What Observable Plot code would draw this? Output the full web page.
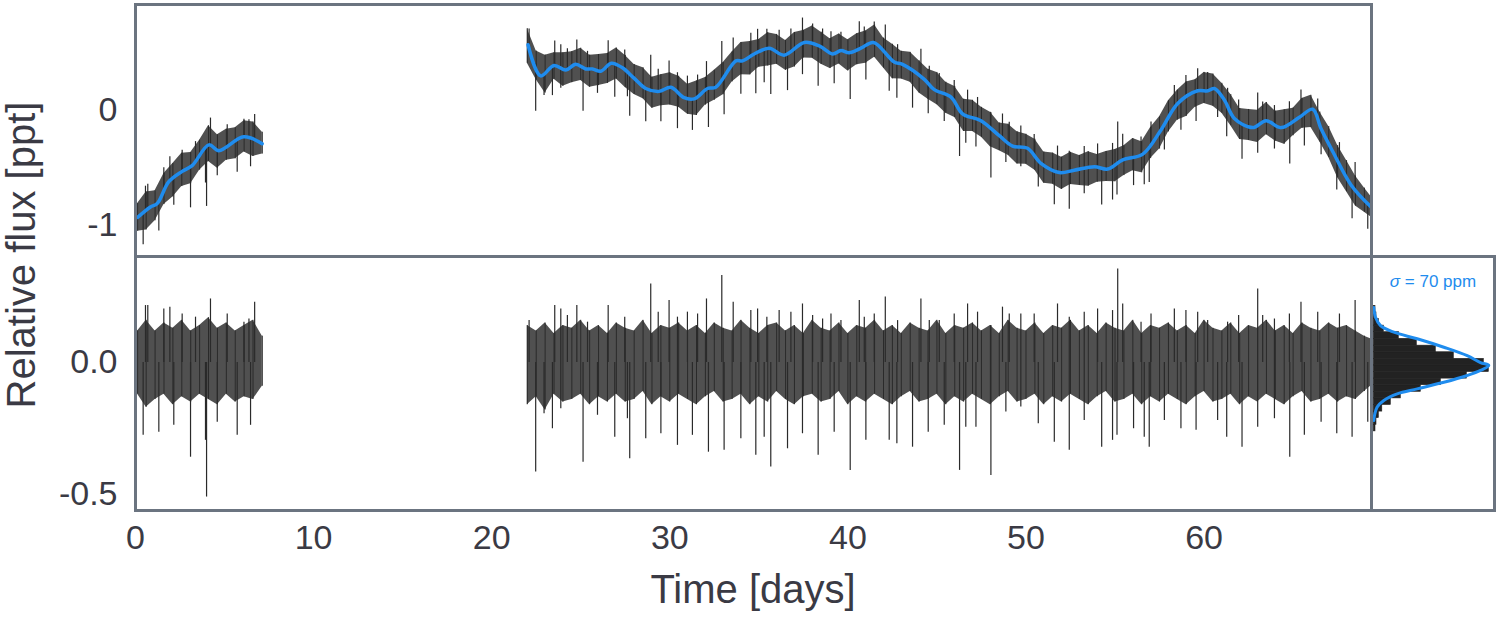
<!DOCTYPE html>
<html><head><meta charset="utf-8">
<script src="https://cdn.jsdelivr.net/npm/d3@7"></script>
<script src="https://cdn.jsdelivr.net/npm/@observablehq/plot@0.6"></script>
<style>
body{margin:0;background:#fff}
#fig{position:relative;width:1499px;height:618px;font-family:"Liberation Sans",Arial,"DejaVu Sans",sans-serif}
#fig svg{position:absolute;left:0;top:0}
</style></head><body><div id="fig"></div>
<script>
// ---- data ----
const trendT = [0.12,0.84,1.22,1.87,2.62,3.18,4.12,4.68,6.08,7.11,
  22.04,22.75,23.5,24.16,24.72,25.28,25.66,26.12,26.72,27.34,27.99,28.65,29.40,30.06,30.80,31.37,32.12,32.58,33.71,34.08,34.74,35.58,36.42,37.55,38.39,39.14,39.61,40.07,40.73,41.44,42.60,43.07,44.29,44.85,45.79,46.44,47.47,48.50,49.25,50.09,50.84,51.87,52.71,53.84,54.59,55.43,56.56,57.58,58.52,59.64,60.21,60.58,61.14,61.70,62.73,63.48,64.33,65.35,66.10,66.57,67.23,68.26,69.38];
const trendV = [-0.93,-0.84,-0.81,-0.62,-0.53,-0.48,-0.30,-0.35,-0.23,-0.29,
  0.57,0.30,0.39,0.35,0.40,0.36,0.36,0.34,0.41,0.37,0.28,0.19,0.165,0.20,0.11,0.10,0.19,0.20,0.43,0.43,0.49,0.54,0.48,0.59,0.56,0.49,0.52,0.50,0.54,0.59,0.42,0.40,0.27,0.18,0.115,-0.03,-0.09,-0.22,-0.31,-0.33,-0.46,-0.54,-0.52,-0.49,-0.51,-0.43,-0.38,-0.17,0.06,0.17,0.17,0.19,0.09,-0.07,-0.15,-0.09,-0.15,-0.06,0.01,-0.16,-0.36,-0.65,-0.84];

// dense noise band (residual extent, ppt) sampled along time
const bandT = [0.12,0.6,1.1,1.6,2.1,2.6,3.1,3.6,4.1,4.6,5.1,5.6,6.1,6.6,7.12,
  22.0,22.5,23.0,23.5,24.0,24.5,25.0,25.5,26.0,26.5,27.0,27.5,28.0,28.5,29.0,29.5,30.0,30.5,31.0,31.5,
  32.0,32.5,33.0,33.5,34.0,34.5,35.0,35.5,36.0,36.5,37.0,37.5,38.0,38.5,39.0,39.5,40.0,40.5,41.0,41.5,
  42.0,42.5,43.0,43.5,44.0,44.5,45.0,45.5,46.0,46.5,47.0,47.5,48.0,48.5,49.0,49.5,50.0,50.5,51.0,51.5,
  52.0,52.5,53.0,53.5,54.0,54.5,55.0,55.5,56.0,56.5,57.0,57.5,58.0,58.5,59.0,59.5,60.0,60.5,61.0,61.5,
  62.0,62.5,63.0,63.5,64.0,64.5,65.0,65.5,66.0,66.5,67.0,67.5,68.0,68.5,69.0,69.35];
const bandHi = [0.12,0.16,0.12,0.15,0.13,0.16,0.12,0.14,0.17,0.13,0.15,0.12,0.14,0.16,0.10,
  0.14,0.12,0.15,0.11,0.14,0.13,0.16,0.12,0.14,0.11,
  0.15,0.13,0.12,0.16,0.11,0.14,0.13,0.15,0.12,0.14,
  0.11,0.15,0.13,0.12,0.16,0.13,0.11,0.14,0.15,0.12,
  0.14,0.11,0.16,0.13,0.12,0.15,0.11,0.14,0.13,0.16,
  0.12,0.14,0.11,0.15,0.13,0.12,0.16,0.11,0.14,0.13,
  0.15,0.12,0.14,0.11,0.16,0.13,0.12,0.15,0.11,0.14,
  0.13,0.16,0.12,0.14,0.11,0.15,0.13,0.12,0.16,0.11,
  0.14,0.13,0.15,0.12,0.14,0.11,0.16,0.13,0.12,0.15,
  0.11,0.14,0.13,0.16,0.12,0.14,0.11,0.15,0.13,0.12,
  0.15,0.13,0.14,0.12,0.10,0.09];
const bandLo = [-0.12,-0.17,-0.14,-0.12,-0.16,-0.13,-0.15,-0.12,-0.14,-0.16,-0.12,-0.15,-0.13,-0.14,-0.09,
  -0.16,-0.13,-0.18,-0.12,-0.15,-0.14,-0.12,-0.16,-0.13,-0.15,
  -0.12,-0.15,-0.14,-0.11,-0.16,-0.13,-0.15,-0.12,-0.14,-0.16,
  -0.13,-0.11,-0.15,-0.14,-0.12,-0.16,-0.13,-0.15,-0.11,-0.14,
  -0.16,-0.13,-0.12,-0.15,-0.14,-0.11,-0.16,-0.13,-0.15,-0.12,
  -0.14,-0.16,-0.13,-0.11,-0.15,-0.14,-0.12,-0.16,-0.13,-0.15,
  -0.12,-0.14,-0.16,-0.13,-0.11,-0.15,-0.14,-0.12,-0.16,-0.13,
  -0.15,-0.12,-0.14,-0.16,-0.13,-0.11,-0.15,-0.14,-0.12,-0.16,
  -0.13,-0.15,-0.12,-0.14,-0.16,-0.13,-0.11,-0.15,-0.14,-0.12,
  -0.16,-0.13,-0.15,-0.12,-0.14,-0.16,-0.13,-0.11,-0.15,-0.14,
  -0.12,-0.15,-0.13,-0.14,-0.11,-0.09];

// individual excursions (residual, ppt)
const spikeT = [0.43,0.56,0.69,1.31,1.59,1.93,2.15,2.62,3.09,3.37,3.93,3.99,4.21,4.59,5.15,5.71,6.09,6.37,6.46,6.69,
  22.10,23.54,23.88,24.25,24.78,25.38,26.54,27.47,28.93,29.35,29.96,30.43,30.99,31.56,32.06,32.92,33.56,34.55,34.93,35.45,36.14,36.80,37.45,38.02,38.58,39.05,39.61,40.64,40.92,41.48,42.10,42.79,44.10,44.57,45.13,
  22.47,22.94,23.41,23.88,25.13,25.94,26.91,27.62,27.75,28.65,29.50,30.43,31.27,32.17,33.05,33.99,34.83,35.30,35.67,36.61,37.45,38.33,39.23,40.13,41.01,42.32,42.75,43.63,44.51,45.41,
  45.97,46.72,47.28,48.03,48.68,49.06,49.71,50.46,51.77,52.43,53.27,54.02,54.86,55.15,55.43,56.46,57.02,58.33,58.98,59.64,60.20,61.32,61.94,63.01,63.29,63.95,64.79,65.44,66.38,67.60,68.48,
  46.27,46.62,47.19,48.03,48.87,49.71,50.69,51.59,52.43,53.27,54.25,54.86,55.11,56.04,56.64,56.92,57.77,58.70,59.55,60.76,61.27,62.13,63.01,63.95,64.81,65.63,66.57,67.45,68.31,69.19];
const spikeV = [-0.276,0.216,0.216,-0.264,0.203,0.21,-0.238,0.184,-0.359,0.172,-0.295,-0.51,0.241,-0.226,0.184,-0.276,0.153,0.165,-0.238,0.229,
  0.159,0.216,0.203,0.178,0.216,0.153,0.216,0.172,0.298,0.191,0.235,0.172,0.191,0.184,0.241,0.33,0.229,0.197,0.203,0.172,0.197,0.191,0.222,0.178,0.165,0.184,0.159,0.235,0.172,0.184,0.248,0.159,0.241,0.159,0.159,
  -0.415,-0.194,-0.251,-0.175,-0.378,-0.20,-0.283,-0.213,-0.365,-0.289,-0.27,-0.314,-0.276,-0.34,-0.333,-0.289,-0.352,-0.283,-0.396,-0.327,-0.27,-0.352,-0.264,-0.409,-0.295,-0.295,-0.308,-0.321,-0.264,-0.238,
  0.184,0.222,0.191,0.14,0.21,0.184,0.184,0.184,0.222,0.172,0.191,0.203,0.197,0.355,0.222,0.153,0.184,0.203,0.197,0.191,0.159,0.153,0.178,0.279,0.178,0.165,0.184,0.229,0.191,0.184,0.235,
  -0.409,-0.245,-0.245,-0.428,-0.188,-0.169,-0.232,-0.302,-0.333,-0.22,-0.321,-0.295,-0.276,-0.251,-0.283,-0.321,-0.22,-0.251,-0.257,-0.22,-0.283,-0.321,-0.245,-0.213,-0.359,-0.276,-0.226,-0.27,-0.283,-0.226];

// residual histogram (bin edges in ppt, relative counts)
const histLo = [-0.261,-0.236,-0.211,-0.186,-0.161,-0.136,-0.111,-0.086,-0.061,-0.036,-0.011,0.014,0.039,0.064,0.090,0.115,0.140,0.165,0.190];
const histHi = [-0.236,-0.211,-0.186,-0.161,-0.136,-0.111,-0.086,-0.061,-0.036,-0.011,0.014,0.039,0.064,0.090,0.115,0.140,0.165,0.190,0.215];
const histCount = [1.7,2.7,5,8.5,17,27,47,67,93,115,110,80,62,43,25,10,5,2.7,1.7];
// fitted gaussian as drawn (count, ppt)
const gaussCount = [0,1.7,6.7,20,43.4,70,93.4,106.7,115,106.7,93.4,70,43.4,23.4,10,3.3,0.7,0];
const gaussV = [0.209,0.172,0.140,0.115,0.090,0.058,0.026,0.0,-0.011,-0.030,-0.049,-0.075,-0.100,-0.119,-0.144,-0.169,-0.201,-0.220];

const xTicks = [0,10,20,30,40,50,60];
const yTicksTop = [0,-1];
const yTicksRes = [0.0,-0.5];
const sigmaLabel = "70 ppm";

// ---- styling ----
const blue = "#1f8cee";
const frameColor = "#6b7480";
const textColor = "#3a3a44";
const noiseFill = "#333333";
const noiseStroke = "#2a2a2a";
const font = '"Liberation Sans", Arial, "DejaVu Sans", sans-serif';

// ---- build rows ----
const seg = t => t < 15 ? 1 : 2;
const bis = d3.bisector(d => d).left;
function trendAt(t){
  let i = bis(trendT, t);
  if (i <= 0) return trendV[0];
  if (i >= trendT.length) return trendV[trendV.length-1];
  if (seg(trendT[i-1]) !== seg(t)) return trendV[i];
  if (seg(trendT[i]) !== seg(t)) return trendV[i-1];
  const f = (t - trendT[i-1]) / (trendT[i] - trendT[i-1]);
  return trendV[i-1] + f * (trendV[i] - trendV[i-1]);
}
const trendRows = trendT.map((t,i) => ({t, v: trendV[i], s: seg(t)}));
const bandRows = bandT.map((t,i) => ({t, s: seg(t), hi: bandHi[i], lo: bandLo[i], thi: trendAt(t)+bandHi[i], tlo: trendAt(t)+bandLo[i]}));
const spikeRows = spikeT.map((t,i) => ({t, v: spikeV[i], tr: trendAt(t), tv: trendAt(t)+spikeV[i]}));
const histRows = histLo.map((lo,i) => ({lo, hi: histHi[i], x1: 0, c: histCount[i]}));
const gaussRows = gaussCount.map((c,i) => ({c, v: gaussV[i]}));

const W = 1499, H = 618;
const xDomain = [0, 69.4];
const styleBase = {background: "transparent", color: textColor, fontFamily: font, overflow: "visible"};

const topPlot = Plot.plot({
  width: W, height: H, marginLeft: 135, marginRight: 128, marginTop: 4, marginBottom: 362,
  style: styleBase,
  x: {domain: xDomain, axis: null},
  y: {domain: [-1.27, 0.92], axis: null},
  marks: [
    Plot.areaY(bandRows, {x: "t", y1: "tlo", y2: "thi", z: "s", fill: noiseFill, fillOpacity: 0.86}),
    Plot.ruleX(bandRows, {x: "t", y1: "tlo", y2: "thi", stroke: noiseStroke, strokeWidth: 1}),
    Plot.ruleX(spikeRows, {x: "t", y1: "tr", y2: "tv", stroke: noiseStroke, strokeWidth: 1.2}),
    Plot.lineY(trendRows, {x: "t", y: "v", z: "s", stroke: blue, strokeWidth: 3.5, curve: "catmull-rom"}),
    Plot.axisY(yTicksTop, {tickSize: 0, tickPadding: 18, fontSize: 34, tickFormat: d => String(d), label: null}),
    Plot.frame({stroke: frameColor, strokeWidth: 3})
  ]
});

const resPlot = Plot.plot({
  width: W, height: H, marginLeft: 135, marginRight: 128, marginTop: 256, marginBottom: 108,
  style: styleBase,
  x: {domain: xDomain, axis: null},
  y: {domain: [-0.561, 0.402], axis: null},
  marks: [
    Plot.areaY(bandRows, {x: "t", y1: "lo", y2: "hi", z: "s", fill: noiseFill, fillOpacity: 0.86}),
    Plot.ruleX(bandRows, {x: "t", y1: "lo", y2: "hi", stroke: noiseStroke, strokeWidth: 1}),
    Plot.ruleX(spikeRows, {x: "t", y1: 0, y2: "v", stroke: noiseStroke, strokeWidth: 1.2}),
    Plot.axisY(yTicksRes, {tickSize: 0, tickPadding: 18, fontSize: 34, tickFormat: d => d.toFixed(1), label: null}),
    Plot.axisX(xTicks, {tickSize: 0, tickPadding: 14, fontSize: 34, tickFormat: d => String(d), label: null}),
    Plot.frame({stroke: frameColor, strokeWidth: 3})
  ]
});

const histPlot = Plot.plot({
  width: W, height: H, marginLeft: 1371, marginRight: 5, marginTop: 256, marginBottom: 108,
  style: styleBase,
  x: {domain: [-2.3, 120.7], axis: null},
  y: {domain: [-0.561, 0.402], axis: null},
  marks: [
    Plot.rect(histRows, {x1: "x1", x2: "c", y1: "lo", y2: "hi", fill: "#222", stroke: "#222", strokeWidth: 0.6}),
    Plot.line(gaussRows, {x: "c", y: "v", stroke: blue, strokeWidth: 3, curve: "catmull-rom"}),
    Plot.frame({stroke: frameColor, strokeWidth: 3})
  ]
});

const fig = document.getElementById("fig");
fig.appendChild(topPlot);
fig.appendChild(resPlot);
fig.appendChild(histPlot);

// axis titles and annotation
const ns = "http://www.w3.org/2000/svg";
const over = document.createElementNS(ns, "svg");
over.setAttribute("width", W); over.setAttribute("height", H);
over.style.pointerEvents = "none";
over.innerHTML =
  `<text transform="translate(35,255) rotate(-90)" text-anchor="middle" font-size="40" fill="${textColor}" font-family='${font}'>Relative flux [ppt]</text>` +
  `<text x="753" y="603" text-anchor="middle" font-size="40" fill="${textColor}" font-family='${font}'>Time [days]</text>` +
  `<text x="1433" y="287" text-anchor="middle" font-size="17" fill="${blue}" font-family='${font}'><tspan font-style="italic">σ</tspan> = ${sigmaLabel}</text>`;
fig.appendChild(over);
</script></body></html>
